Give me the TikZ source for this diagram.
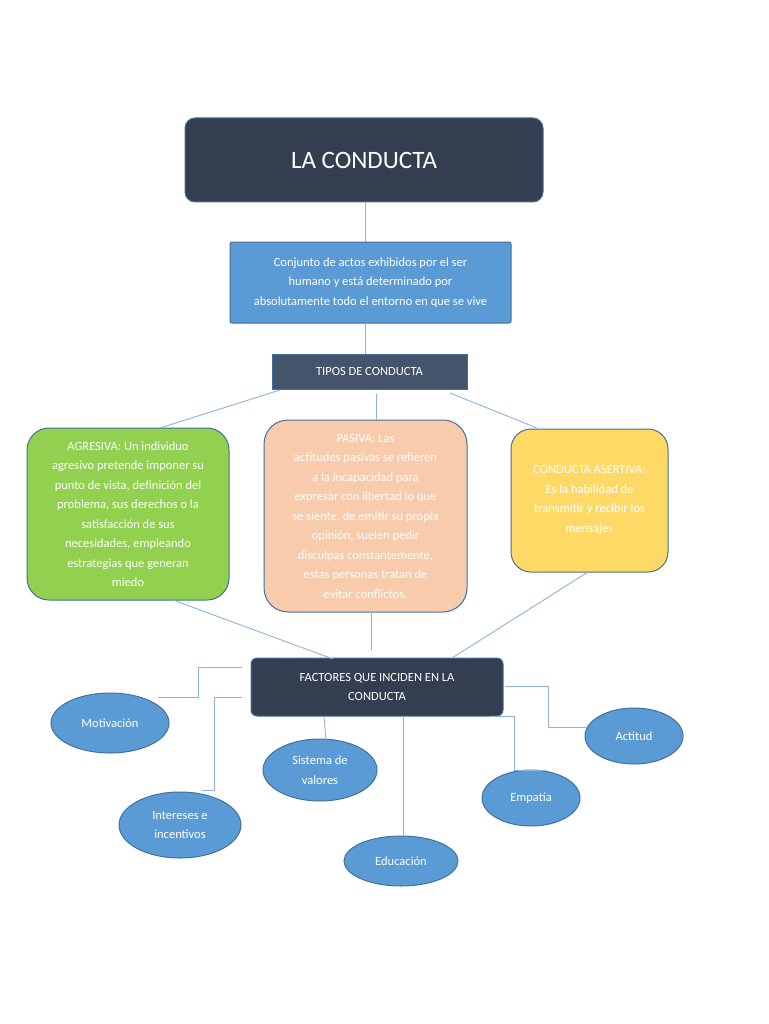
\documentclass[tikz,border=0pt]{standalone}
\usepackage{fontspec}
\usetikzlibrary{shapes.geometric}
\setmainfont{Carlito}
\definecolor{dark}{HTML}{333F50}
\definecolor{slate}{HTML}{44546A}
\definecolor{blu}{HTML}{5B9BD5}
\definecolor{blubd}{HTML}{41719C}
\definecolor{grn}{HTML}{92D050}
\definecolor{pch}{HTML}{F8CBAD}
\definecolor{ylw}{HTML}{FFD966}
\definecolor{ln}{HTML}{8DB3E2}
\begin{document}
\begin{tikzpicture}[x=1pt,y=-1pt,
  box/.style={draw=blubd,line width=1pt,rounded corners=#1},
  txt/.style={text=white,align=center,font=\fontsize{12.5}{19.5}\selectfont},
  ell/.style={draw=blubd,line width=1pt,fill=blu,ellipse,inner sep=0pt},
  con/.style={draw=ln,line width=0.9pt}]
\useasboundingbox[fill=white] (0,0) rectangle (768,1024);
\draw[box=10pt,fill=dark] (185,118) rectangle (543,202) node[midway,text=white,font=\fontsize{25}{30}\selectfont] (title) {LA CONDUCTA};
\draw[box=2pt,fill=blu] (230,242) rectangle (511,323) node[midway,txt] (def) {Conjunto de actos exhibidos por el ser\\humano y está determinado por\\absolutamente todo el entorno en que se vive};
\draw[box=0pt,fill=slate] (272,354) rectangle (467,389) node[midway,txt] (tipos) {TIPOS DE CONDUCTA};
\draw[box=22pt,fill=grn] (27,428) rectangle (229,600) node[midway,txt] (agr) {AGRESIVA: Un individuo\\agresivo pretende imponer su\\punto de vista, definición del\\problema, sus derechos o la\\satisfacción de sus\\necesidades, empleando\\estrategias que generan\\miedo};
\draw[box=24pt,fill=pch] (264,420) rectangle (467,612);
\node[txt,text=white] (pas) at (365.5,516) {PASIVA: Las\\actitudes pasivas se refieren\\a la incapacidad para\\expresar con libertad lo que\\se siente, de emitir su propia\\opinión, suelen pedir\\disculpas constantemente,\\estas personas tratan de\\evitar conflictos.};
\draw[box=20pt,fill=ylw] (511,429) rectangle (668,572);
\node[txt] (ase) at (589.5,500) {CONDUCTA ASERTIVA:\\Es la habilidad de\\transmitir y recibir los\\mensajes};
\draw[box=6pt,fill=dark] (251,658) rectangle (503,716) node[midway,txt] (fac) {FACTORES QUE INCIDEN EN LA\\CONDUCTA};
\node[ell,minimum width=118,minimum height=60,txt] (mot) at (110,723) {Motivación};
\node[ell,minimum width=122,minimum height=66,txt] (int) at (180,825) {Intereses e\\incentivos};
\node[ell,minimum width=114,minimum height=62,txt] (sis) at (320,770) {Sistema de\\valores};
\node[ell,minimum width=114,minimum height=50,txt] (edu) at (401,861) {Educación};
\node[ell,minimum width=98,minimum height=56,txt] (emp) at (531,798) {Empatía};
\node[ell,minimum width=98,minimum height=56,txt] (act) at (634,736) {Actitud};
\draw[con] (365,202) -- (365,242);
\draw[con] (365,323) -- (365,354);
\draw[con] (280,390) -- (160,428);
\draw[con] (376,394) -- (376,420);
\draw[con] (450,393) -- (537,428);
\draw[con] (173,600) -- (333,659);
\draw[con] (371,612) -- (371,650);
\draw[con] (588,572) -- (452,658);
\draw[con] (242,667) -- (198,667) -- (198,697) -- (158,697);
\draw[con] (242,697) -- (214,697) -- (214,790) -- (202,790);
\draw[con] (324,716) -- (326,740);
\draw[con] (403,716) -- (403,836);
\draw[con] (490,716) -- (514,716) -- (514,770) -- (546,770);
\draw[con] (505,686) -- (548,686) -- (548,727) -- (586,727);
\end{tikzpicture}
\end{document}
